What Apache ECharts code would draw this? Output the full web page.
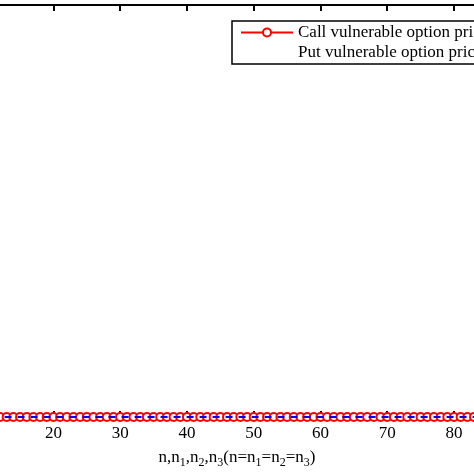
<!DOCTYPE html>
<html>
<head>
<meta charset="UTF-8">
<script src="https://cdn.jsdelivr.net/npm/echarts@6/dist/echarts.min.js"></script>
<style>body{margin:0;background:#fff;}</style>
</head>
<body>
<div id="chart" style="width:474px;height:474px;"></div>
<script>
// n = n1 = n2 = n3, 1..100
var nValues = [];
for (var i = 1; i <= 100; i++) nValues.push(i);
var tickValues = [20, 30, 40, 50, 60, 70, 80];
// both pricing curves sit on the bottom of the axis (value ~0)
var callPrice = [0,0,0,0,0,0,0,0,0,0,0,0,0,0,0,0,0,0,0,0,0,0,0,0,0,0,0,0,0,0,0,0,0,0,0,0,0,0,0,0,0,0,0,0,0,0,0,0,0,0,0,0,0,0,0,0,0,0,0,0,0,0,0,0,0,0,0,0,0,0,0,0,0,0,0,0,0,0,0,0,0,0,0,0,0,0,0,0,0,0,0,0,0,0,0,0,0,0,0,0];
var putPrice = [0,0,0,0,0,0,0,0,0,0,0,0,0,0,0,0,0,0,0,0,0,0,0,0,0,0,0,0,0,0,0,0,0,0,0,0,0,0,0,0,0,0,0,0,0,0,0,0,0,0,0,0,0,0,0,0,0,0,0,0,0,0,0,0,0,0,0,0,0,0,0,0,0,0,0,0,0,0,0,0,0,0,0,0,0,0,0,0,0,0,0,0,0,0,0,0,0,0,0,0];

var font = 'Liberation Serif';
var tickStyle = { inside: true, length: 6, customValues: tickValues, lineStyle: { color: '#000', width: 2 } };
var chart = echarts.init(document.getElementById('chart'));
chart.setOption({
  animation: false,
  grid: { left: 0, right: 0, top: 5, bottom: 50 },
  legend: {
    orient: 'vertical', left: 232, top: 21, itemGap: 3, itemWidth: 52, itemHeight: 10,
    borderColor: '#000', borderWidth: 1.5, padding: [3, 6, 3, 8], backgroundColor: '#fff',
    textStyle: { fontFamily: font, fontSize: 17, color: '#000' },
    data: [{ name: 'Call vulnerable option pricing' },
           { name: 'Put vulnerable option pricing', icon: 'none' }]
  },
  xAxis: [{
    type: 'value', min: 12, max: 83,
    axisLine: { lineStyle: { color: '#000', width: 2 } },
    axisTick: tickStyle,
    axisLabel: { fontFamily: font, fontSize: 17, color: '#000', margin: 8, customValues: tickValues },
    splitLine: { show: false },
    name: 'n,n{s|1},n{s|2},n{s|3}(n=n{s|1}=n{s|2}=n{s|3})',
    nameLocation: 'middle', nameGap: 30, nameTextStyle: {
      fontFamily: font, fontSize: 17, color: '#000',
      rich: { s: { fontFamily: font, fontSize: 12, color: '#000', padding: [10, 0, 0, 0] } }
    }
  }, {
    type: 'value', position: 'top', min: 12, max: 83,
    axisLine: { lineStyle: { color: '#000', width: 2 } },
    axisTick: tickStyle,
    axisLabel: { show: false }, splitLine: { show: false }
  }],
  yAxis: {
    type: 'value', min: 0, max: 1,
    axisLine: { show: false }, axisLabel: { show: false }, axisTick: { show: false }, splitLine: { show: false }
  },
  series: [{
    name: 'Call vulnerable option pricing', type: 'line', clip: false, z: 2,
    data: nValues.map(function (n, i) { return [n, callPrice[i]]; }),
    symbol: 'circle', symbolSize: 8,
    itemStyle: { color: '#fff', borderColor: '#ff0000', borderWidth: 2 },
    lineStyle: { color: '#ff0000', width: 2 }
  }, {
    name: 'Put vulnerable option pricing', type: 'line', clip: false, z: 5,
    data: nValues.map(function (n, i) { return [n, putPrice[i]]; }),
    showSymbol: false, symbol: 'none',
    itemStyle: { color: '#0000ff' },
    lineStyle: { color: '#0000ff', width: 2, type: [7, 6] }
  }]
});
</script>
</body>
</html>
